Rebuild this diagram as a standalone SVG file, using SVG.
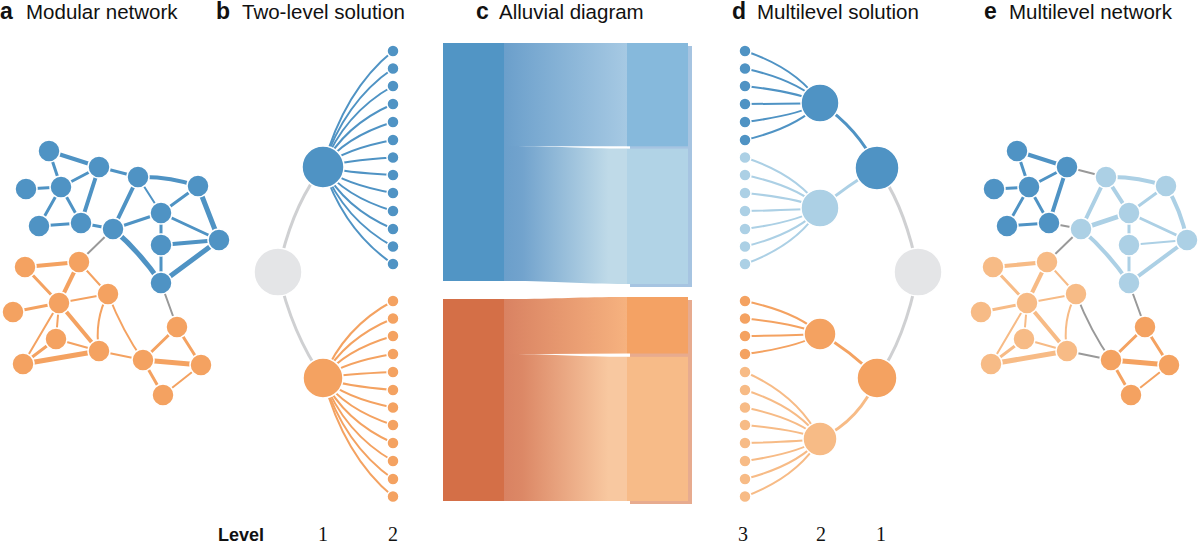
<svg xmlns="http://www.w3.org/2000/svg" width="1200" height="543" viewBox="0 0 1200 543">
<style>
.t{font-family:"Liberation Sans","DejaVu Sans",sans-serif;font-size:20.5px;fill:#111}
.tb{font-family:"Liberation Sans","DejaVu Sans",sans-serif;font-size:23px;font-weight:bold;fill:#111}
.lv{font-family:"Liberation Sans","DejaVu Sans",sans-serif;font-size:18px;font-weight:bold;fill:#111}
.num{font-family:"Liberation Serif","DejaVu Serif",serif;font-size:20px;fill:#111;text-anchor:middle}
circle{stroke:#fff;stroke-width:1.5}
.bl{fill:#4f93c4}.lb{fill:#acd0e5}.or{fill:#f4a261}.lo{fill:#f7bb86}.gr{fill:#e4e5e7}
.eb,.elb,.eo,.elo,.eg,.er{fill:none;stroke-linecap:round}
.eb{stroke:#4f93c4}.elb{stroke:#acd0e5}.eo{stroke:#f4a261}.elo{stroke:#f7bb86}.eg{stroke:#999}
.er{stroke:#cfd0d2;stroke-width:3}
.w2{stroke-width:2}.w3{stroke-width:3}.w4{stroke-width:4}.w5{stroke-width:5}
.lf{stroke-width:2}
.lf path{fill:none;stroke-linecap:round}
</style>
<defs>
<linearGradient id="gbt" x1="504" y1="0" x2="627" y2="0" gradientUnits="userSpaceOnUse"><stop offset="0" stop-color="#6b9fcb"/><stop offset="1" stop-color="#a6c9e3"/></linearGradient>
<linearGradient id="gbb" x1="504" y1="0" x2="627" y2="0" gradientUnits="userSpaceOnUse"><stop offset="0" stop-color="#6b9fcb"/><stop offset="0.15" stop-color="#72a3cd"/><stop offset="0.85" stop-color="#bfdae8"/><stop offset="1" stop-color="#bfdae8"/></linearGradient>
<linearGradient id="got" x1="504" y1="0" x2="627" y2="0" gradientUnits="userSpaceOnUse"><stop offset="0" stop-color="#d98262"/><stop offset="1" stop-color="#f6b27f"/></linearGradient>
<linearGradient id="gob" x1="504" y1="0" x2="627" y2="0" gradientUnits="userSpaceOnUse"><stop offset="0" stop-color="#d98262"/><stop offset="0.15" stop-color="#dc8866"/><stop offset="0.85" stop-color="#f8c8a0"/><stop offset="1" stop-color="#f8c8a0"/></linearGradient>
</defs>

<g id="titles">
<text class="tb" x="0" y="19">a</text><text class="t" x="26" y="19">Modular network</text>
<text class="tb" x="216" y="19">b</text><text class="t" x="242" y="19">Two-level solution</text>
<text class="tb" x="476" y="19">c</text><text class="t" x="499" y="19">Alluvial diagram</text>
<text class="tb" x="732" y="19">d</text><text class="t" x="757" y="19">Multilevel solution</text>
<text class="tb" x="984" y="19">e</text><text class="t" x="1009" y="19">Multilevel network</text>
</g>
<g id="levels">
<text class="lv" x="218" y="541">Level</text>
<text class="num" x="323" y="541">1</text><text class="num" x="393" y="541">2</text>
<text class="num" x="743" y="541">3</text><text class="num" x="821" y="541">2</text><text class="num" x="881" y="541">1</text>
</g>

<!-- Panel a -->
<g id="a-connectors">
<line class="eb w4" x1="49" y1="151" x2="99" y2="167"/>
<line class="eb w3" x1="49" y1="151" x2="61" y2="187"/>
<line class="eb w3" x1="26" y1="189" x2="61" y2="187"/>
<line class="eb w3" x1="61" y1="187" x2="99" y2="167"/>
<line class="eb w3" x1="61" y1="187" x2="39" y2="226"/>
<line class="eb w3" x1="61" y1="187" x2="81" y2="223"/>
<line class="eb w4" x1="99" y1="167" x2="81" y2="223"/>
<line class="eb w3" x1="39" y1="226" x2="81" y2="223"/>
<line class="eb w3" x1="81" y1="223" x2="113" y2="229"/>
<line class="eb w3" x1="99" y1="167" x2="138" y2="177"/>
<path class="eb w4" d="M138,177 Q168,176 198,186"/>
<line class="eb w4" x1="138" y1="177" x2="113" y2="229"/>
<line class="eb w2" x1="138" y1="177" x2="161" y2="213"/>
<line class="eb w3" x1="198" y1="186" x2="161" y2="213"/>
<line class="eb w5" x1="198" y1="186" x2="219" y2="240"/>
<line class="eb w3" x1="113" y1="229" x2="161" y2="213"/>
<line class="eb w3" x1="161" y1="213" x2="161" y2="245"/>
<line class="eb w3" x1="161" y1="213" x2="219" y2="240"/>
<line class="eb w4" x1="161" y1="245" x2="219" y2="240"/>
<path class="eb w5" d="M113,229 Q140,252 161,283"/>
<line class="eb w3" x1="161" y1="245" x2="161" y2="283"/>
<line class="eb w5" x1="219" y1="240" x2="161" y2="283"/>
<line class="eg w2" x1="113" y1="229" x2="79" y2="262"/>
<line class="eg w2" x1="161" y1="283" x2="177" y2="327"/>
<line class="eo w4" x1="79" y1="262" x2="25" y2="267"/>
<line class="eo w4" x1="79" y1="262" x2="59" y2="303"/>
<line class="eo w2" x1="79" y1="262" x2="108" y2="294"/>
<line class="eo w3" x1="25" y1="267" x2="59" y2="303"/>
<line class="eo w2" x1="59" y1="303" x2="108" y2="294"/>
<line class="eo w3" x1="59" y1="303" x2="13" y2="312"/>
<line class="eo w2" x1="59" y1="303" x2="56" y2="339"/>
<line class="eo w4" x1="59" y1="303" x2="99" y2="351"/>
<line class="eo w2" x1="59" y1="303" x2="23" y2="364"/>
<line class="eo w2" x1="56" y1="339" x2="99" y2="351"/>
<line class="eo w3" x1="56" y1="339" x2="23" y2="364"/>
<line class="eo w5" x1="23" y1="364" x2="99" y2="351"/>
<path class="eo w2" d="M108,294 Q94,320 99,351"/>
<path class="eo w2" d="M108,294 Q123,332 143,360"/>
<line class="eo w2" x1="99" y1="351" x2="143" y2="360"/>
<line class="eo w3" x1="143" y1="360" x2="177" y2="327"/>
<line class="eo w5" x1="143" y1="360" x2="201" y2="365"/>
<line class="eo w3" x1="177" y1="327" x2="201" y2="365"/>
<line class="eo w3" x1="143" y1="360" x2="163" y2="395"/>
<line class="eo w2" x1="163" y1="395" x2="201" y2="365"/>
</g>
<g id="a-nodes">
<g id="a-n1"><circle class="bl" cx="49" cy="151" r="11"/></g>
<g id="a-n2"><circle class="bl" cx="99" cy="167" r="11"/></g>
<g id="a-n3"><circle class="bl" cx="26" cy="189" r="11"/></g>
<g id="a-n4"><circle class="bl" cx="61" cy="187" r="11"/></g>
<g id="a-n5"><circle class="bl" cx="138" cy="177" r="11"/></g>
<g id="a-n6"><circle class="bl" cx="198" cy="186" r="11"/></g>
<g id="a-n7"><circle class="bl" cx="39" cy="226" r="11"/></g>
<g id="a-n8"><circle class="bl" cx="81" cy="223" r="11"/></g>
<g id="a-n9"><circle class="bl" cx="113" cy="229" r="11"/></g>
<g id="a-n10"><circle class="bl" cx="161" cy="213" r="11"/></g>
<g id="a-n11"><circle class="bl" cx="161" cy="245" r="11"/></g>
<g id="a-n12"><circle class="bl" cx="219" cy="240" r="11"/></g>
<g id="a-n13"><circle class="bl" cx="161" cy="283" r="11"/></g>
<g id="a-n14"><circle class="or" cx="79" cy="262" r="11"/></g>
<g id="a-n15"><circle class="or" cx="25" cy="267" r="11"/></g>
<g id="a-n16"><circle class="or" cx="59" cy="303" r="11"/></g>
<g id="a-n17"><circle class="or" cx="108" cy="294" r="11"/></g>
<g id="a-n18"><circle class="or" cx="13" cy="312" r="11"/></g>
<g id="a-n19"><circle class="or" cx="56" cy="339" r="11"/></g>
<g id="a-n20"><circle class="or" cx="99" cy="351" r="11"/></g>
<g id="a-n21"><circle class="or" cx="23" cy="364" r="11"/></g>
<g id="a-n22"><circle class="or" cx="143" cy="360" r="11"/></g>
<g id="a-n23"><circle class="or" cx="177" cy="327" r="11"/></g>
<g id="a-n24"><circle class="or" cx="201" cy="365" r="11"/></g>
<g id="a-n25"><circle class="or" cx="163" cy="395" r="11"/></g>
</g>

<!-- Panel b -->
<g id="b-connectors">
<path class="er" d="M278,272 Q292,205 323,167"/>
<path class="er" d="M278,272 Q292,334 323,378"/>
<g class="eb lf">
<path d="M323,167 Q344,90.4 393,51"/><path d="M323,167 Q344,102 393,68.5"/><path d="M323,167 Q344,113.5 393,86"/><path d="M323,167 Q344,125.4 393,104"/><path d="M323,167 Q344,137.3 393,122"/><path d="M323,167 Q344,149.2 393,140"/><path d="M323,167 Q344,160.7 393,157.5"/><path d="M323,167 Q344,172.3 393,175"/><path d="M323,167 Q344,184.2 393,193"/><path d="M323,167 Q344,196 393,211"/><path d="M323,167 Q344,207.9 393,229"/><path d="M323,167 Q344,219.5 393,246.5"/><path d="M323,167 Q344,231 393,264"/>
</g>
<g class="eo lf">
<path d="M323,378 Q344,327.2 393,301"/><path d="M323,378 Q344,338.7 393,318.5"/><path d="M323,378 Q344,350.3 393,336"/><path d="M323,378 Q344,362.2 393,354"/><path d="M323,378 Q344,374 393,372"/><path d="M323,378 Q344,385.9 393,390"/><path d="M323,378 Q344,397.5 393,407.5"/><path d="M323,378 Q344,409 393,425"/><path d="M323,378 Q344,420.9 393,443"/><path d="M323,378 Q344,432.8 393,461"/><path d="M323,378 Q344,444.7 393,479"/><path d="M323,378 Q344,456.2 393,496.5"/>
</g>
</g>
<g id="b-nodes">
<g id="b-root"><circle class="gr" cx="278" cy="272" r="24"/></g>
<g id="b-m1"><circle class="bl" cx="323" cy="167" r="21"/></g>
<g id="b-m2"><circle class="or" cx="323" cy="378" r="20"/></g>
<g id="b-leaves-blue" class="bl">
<circle cx="393" cy="51" r="6"/><circle cx="393" cy="68.5" r="6"/><circle cx="393" cy="86" r="6"/><circle cx="393" cy="104" r="6"/><circle cx="393" cy="122" r="6"/><circle cx="393" cy="140" r="6"/><circle cx="393" cy="157.5" r="6"/><circle cx="393" cy="175" r="6"/><circle cx="393" cy="193" r="6"/><circle cx="393" cy="211" r="6"/><circle cx="393" cy="229" r="6"/><circle cx="393" cy="246.5" r="6"/><circle cx="393" cy="264" r="6"/>
</g>
<g id="b-leaves-orange" class="or">
<circle cx="393" cy="301" r="6"/><circle cx="393" cy="318.5" r="6"/><circle cx="393" cy="336" r="6"/><circle cx="393" cy="354" r="6"/><circle cx="393" cy="372" r="6"/><circle cx="393" cy="390" r="6"/><circle cx="393" cy="407.5" r="6"/><circle cx="393" cy="425" r="6"/><circle cx="393" cy="443" r="6"/><circle cx="393" cy="461" r="6"/><circle cx="393" cy="479" r="6"/><circle cx="393" cy="496.5" r="6"/>
</g>
</g>

<!-- Panel c -->
<g id="c-alluvial">
<rect x="630" y="46" width="62" height="241" fill="#a6c4e1"/>
<rect x="630" y="300" width="62" height="204" fill="#e7ab8f"/>
<rect x="443" y="43" width="61" height="238" fill="#5195c5"/>
<rect x="443" y="299" width="61" height="202" fill="#d46f47"/>
<path d="M504,43 L627,43 L627,146.3 L504,146.3 Z" style="fill:url(#gbt)"/>
<path d="M504,146 C560,146 575,148.6 627,148.6 L627,284 C575,284 560,281 504,281 Z" style="fill:url(#gbb)"/>
<path d="M504,299 C560,299 575,297 627,297 L627,353.5 L504,354.3 Z" style="fill:url(#got)"/>
<path d="M504,354 C560,354 575,356.8 627,356.8 L627,501 L504,501 Z" style="fill:url(#gob)"/>
<rect x="627" y="43" width="61" height="103.3" fill="#86b9dc"/>
<rect x="627" y="148.6" width="61" height="135.4" fill="#b1d3e6"/>
<rect x="627" y="297" width="61" height="56.5" fill="#f4a264"/>
<rect x="627" y="356.8" width="61" height="144.2" fill="#f7bb88"/>
</g>

<!-- Panel d -->
<g id="d-connectors">
<path class="er" d="M918,272 Q905,205 877,168"/>
<path class="er" d="M918,272 Q905,340 877,378"/>
<path class="eb w3" d="M877,168 Q858,128 820,103"/>
<path class="elb w3" d="M877,168 Q848,185 820,208"/>
<path class="eo w3" d="M877,378 Q850,350 820,334"/>
<path class="elo w3" d="M877,378 Q860,420 820,439"/>
<g class="eb lf">
<path d="M820,103 Q797.5,68.7 745,51"/><path d="M820,103 Q797.5,80.2 745,68.5"/><path d="M820,103 Q797.5,91.8 745,86"/><path d="M820,103 Q797.5,103.7 745,104"/><path d="M820,103 Q797.5,115.5 745,122"/><path d="M820,103 Q797.5,127.4 745,140"/>
</g>
<g class="elb lf">
<path d="M820,208 Q797.5,174.7 745,157.5"/><path d="M820,208 Q797.5,186.2 745,175"/><path d="M820,208 Q797.5,198.1 745,193"/><path d="M820,208 Q797.5,210 745,211"/><path d="M820,208 Q797.5,221.9 745,229"/><path d="M820,208 Q797.5,233.4 745,246.5"/><path d="M820,208 Q797.5,245 745,264"/>
</g>
<g class="eo lf">
<path d="M820,334 Q797.5,312.2 745,301"/><path d="M820,334 Q797.5,323.8 745,318.5"/><path d="M820,334 Q797.5,335.3 745,336"/><path d="M820,334 Q797.5,347.2 745,354"/>
</g>
<g class="elo lf">
<path d="M820,439 Q797.5,394.8 745,372"/><path d="M820,439 Q797.5,406.7 745,390"/><path d="M820,439 Q797.5,418.2 745,407.5"/><path d="M820,439 Q797.5,429.8 745,425"/><path d="M820,439 Q797.5,441.6 745,443"/><path d="M820,439 Q797.5,453.5 745,461"/><path d="M820,439 Q797.5,465.4 745,479"/><path d="M820,439 Q797.5,477 745,496.5"/>
</g>
</g>
<g id="d-nodes">
<g id="d-root"><circle class="gr" cx="918" cy="272" r="24"/></g>
<g id="d-l1-blue"><circle class="bl" cx="877" cy="168" r="22"/></g>
<g id="d-l1-orange"><circle class="or" cx="877" cy="378" r="20"/></g>
<g id="d-l2-blue"><circle class="bl" cx="820" cy="103" r="19"/></g>
<g id="d-l2-lblue"><circle class="lb" cx="820" cy="208" r="19"/></g>
<g id="d-l2-orange"><circle class="or" cx="820" cy="334" r="16"/></g>
<g id="d-l2-lorange"><circle class="lo" cx="820" cy="439" r="17"/></g>
<g id="d-leaves-blue" class="bl">
<circle cx="745" cy="51" r="6"/><circle cx="745" cy="68.5" r="6"/><circle cx="745" cy="86" r="6"/><circle cx="745" cy="104" r="6"/><circle cx="745" cy="122" r="6"/><circle cx="745" cy="140" r="6"/>
</g>
<g id="d-leaves-lblue" class="lb">
<circle cx="745" cy="157.5" r="6"/><circle cx="745" cy="175" r="6"/><circle cx="745" cy="193" r="6"/><circle cx="745" cy="211" r="6"/><circle cx="745" cy="229" r="6"/><circle cx="745" cy="246.5" r="6"/><circle cx="745" cy="264" r="6"/>
</g>
<g id="d-leaves-orange" class="or">
<circle cx="745" cy="301" r="6"/><circle cx="745" cy="318.5" r="6"/><circle cx="745" cy="336" r="6"/><circle cx="745" cy="354" r="6"/>
</g>
<g id="d-leaves-lorange" class="lo">
<circle cx="745" cy="372" r="6"/><circle cx="745" cy="390" r="6"/><circle cx="745" cy="407.5" r="6"/><circle cx="745" cy="425" r="6"/><circle cx="745" cy="443" r="6"/><circle cx="745" cy="461" r="6"/><circle cx="745" cy="479" r="6"/><circle cx="745" cy="496.5" r="6"/>
</g>
</g>

<!-- Panel e -->
<g id="e-connectors" transform="translate(968,0)">
<line class="eb w4" x1="49" y1="151" x2="99" y2="167"/>
<line class="eb w3" x1="49" y1="151" x2="61" y2="187"/>
<line class="eb w3" x1="26" y1="189" x2="61" y2="187"/>
<line class="eb w3" x1="61" y1="187" x2="99" y2="167"/>
<line class="eb w3" x1="61" y1="187" x2="39" y2="226"/>
<line class="eb w3" x1="61" y1="187" x2="81" y2="223"/>
<line class="eb w4" x1="99" y1="167" x2="81" y2="223"/>
<line class="eb w3" x1="39" y1="226" x2="81" y2="223"/>
<line class="eg w2" x1="81" y1="223" x2="113" y2="229"/>
<line class="eg w2" x1="99" y1="167" x2="138" y2="177"/>
<path class="elb w4" d="M138,177 Q168,176 198,186"/>
<line class="elb w4" x1="138" y1="177" x2="113" y2="229"/>
<line class="elb w4" x1="138" y1="177" x2="161" y2="213"/>
<line class="elb w3" x1="198" y1="186" x2="161" y2="213"/>
<path class="elb w4" d="M198,186 Q213,210 219,240"/>
<line class="elb w5" x1="113" y1="229" x2="161" y2="213"/>
<line class="elb w3" x1="161" y1="213" x2="161" y2="245"/>
<line class="elb w3" x1="161" y1="213" x2="219" y2="240"/>
<line class="elb w2" x1="161" y1="245" x2="219" y2="240"/>
<path class="elb w4" d="M113,229 Q140,252 161,283"/>
<line class="elb w3" x1="161" y1="245" x2="161" y2="283"/>
<line class="elb w4" x1="219" y1="240" x2="161" y2="283"/>
<line class="eg w2" x1="113" y1="229" x2="79" y2="262"/>
<line class="eg w2" x1="161" y1="283" x2="177" y2="327"/>
<line class="elo w4" x1="79" y1="262" x2="25" y2="267"/>
<line class="elo w4" x1="79" y1="262" x2="59" y2="303"/>
<line class="elo w2" x1="79" y1="262" x2="108" y2="294"/>
<line class="elo w3" x1="25" y1="267" x2="59" y2="303"/>
<line class="elo w2" x1="59" y1="303" x2="108" y2="294"/>
<line class="elo w3" x1="59" y1="303" x2="13" y2="312"/>
<line class="elo w2" x1="59" y1="303" x2="56" y2="339"/>
<line class="elo w4" x1="59" y1="303" x2="99" y2="351"/>
<line class="elo w2" x1="59" y1="303" x2="23" y2="364"/>
<line class="elo w2" x1="56" y1="339" x2="99" y2="351"/>
<line class="elo w3" x1="56" y1="339" x2="23" y2="364"/>
<line class="elo w5" x1="23" y1="364" x2="99" y2="351"/>
<path class="elo w2" d="M108,294 Q94,320 99,351"/>
<path class="eg w2" d="M108,294 Q123,332 143,360"/>
<line class="eg w2" x1="99" y1="351" x2="143" y2="360"/>
<line class="eo w3" x1="143" y1="360" x2="177" y2="327"/>
<line class="eo w5" x1="143" y1="360" x2="201" y2="365"/>
<line class="eo w3" x1="177" y1="327" x2="201" y2="365"/>
<line class="eo w3" x1="143" y1="360" x2="163" y2="395"/>
<line class="eo w2" x1="163" y1="395" x2="201" y2="365"/>
</g>
<g id="e-nodes" transform="translate(968,0)">
<g id="e-n1"><circle class="bl" cx="49" cy="151" r="11"/></g>
<g id="e-n2"><circle class="bl" cx="99" cy="167" r="11"/></g>
<g id="e-n3"><circle class="bl" cx="26" cy="189" r="11"/></g>
<g id="e-n4"><circle class="bl" cx="61" cy="187" r="11"/></g>
<g id="e-n5"><circle class="lb" cx="138" cy="177" r="11"/></g>
<g id="e-n6"><circle class="lb" cx="198" cy="186" r="11"/></g>
<g id="e-n7"><circle class="bl" cx="39" cy="226" r="11"/></g>
<g id="e-n8"><circle class="bl" cx="81" cy="223" r="11"/></g>
<g id="e-n9"><circle class="lb" cx="113" cy="229" r="11"/></g>
<g id="e-n10"><circle class="lb" cx="161" cy="213" r="11"/></g>
<g id="e-n11"><circle class="lb" cx="161" cy="245" r="11"/></g>
<g id="e-n12"><circle class="lb" cx="219" cy="240" r="11"/></g>
<g id="e-n13"><circle class="lb" cx="161" cy="283" r="11"/></g>
<g id="e-n14"><circle class="lo" cx="79" cy="262" r="11"/></g>
<g id="e-n15"><circle class="lo" cx="25" cy="267" r="11"/></g>
<g id="e-n16"><circle class="lo" cx="59" cy="303" r="11"/></g>
<g id="e-n17"><circle class="lo" cx="108" cy="294" r="11"/></g>
<g id="e-n18"><circle class="lo" cx="13" cy="312" r="11"/></g>
<g id="e-n19"><circle class="lo" cx="56" cy="339" r="11"/></g>
<g id="e-n20"><circle class="lo" cx="99" cy="351" r="11"/></g>
<g id="e-n21"><circle class="lo" cx="23" cy="364" r="11"/></g>
<g id="e-n22"><circle class="or" cx="143" cy="360" r="11"/></g>
<g id="e-n23"><circle class="or" cx="177" cy="327" r="11"/></g>
<g id="e-n24"><circle class="or" cx="201" cy="365" r="11"/></g>
<g id="e-n25"><circle class="or" cx="163" cy="395" r="11"/></g>
</g>
</svg>
